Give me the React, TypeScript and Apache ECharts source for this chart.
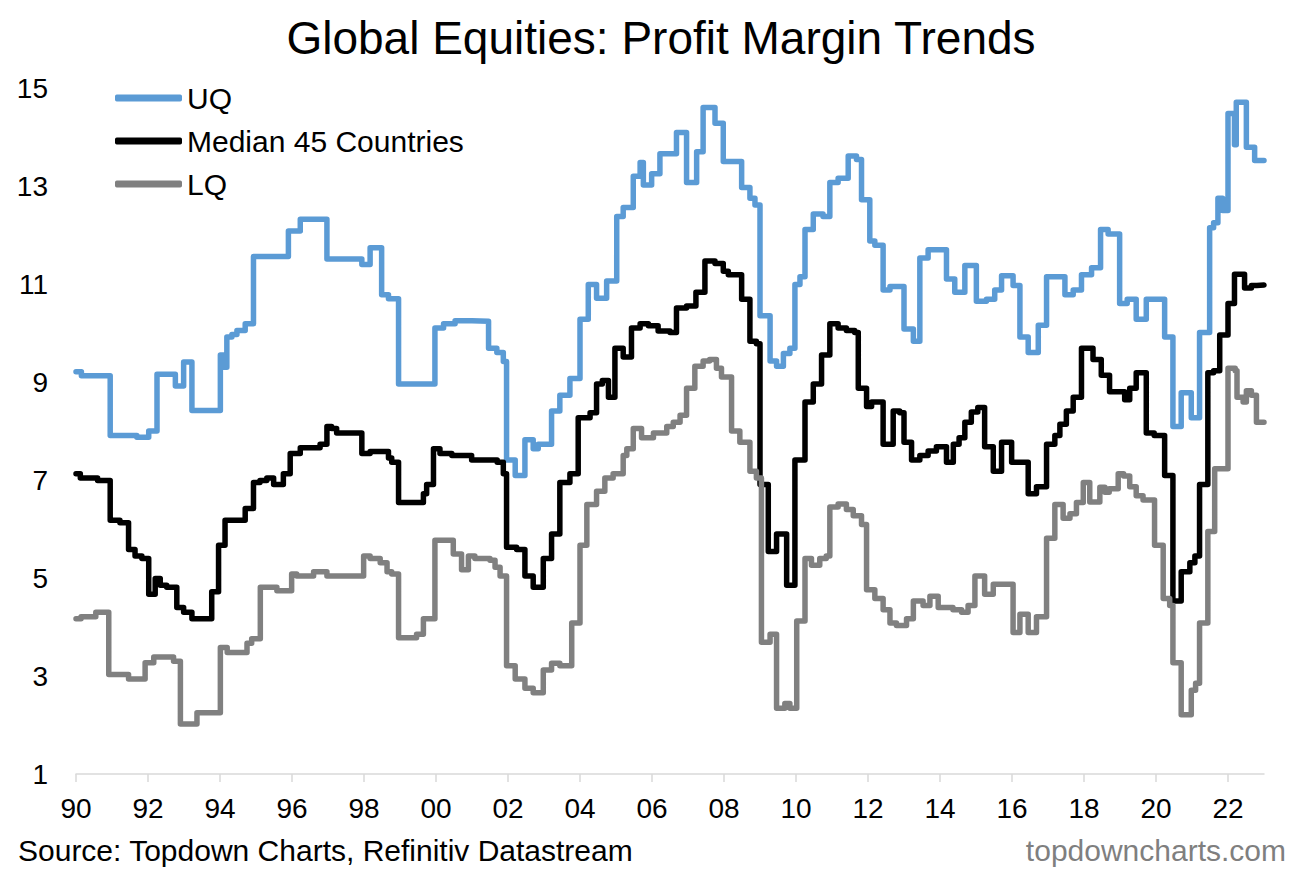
import React, { useEffect, useRef } from "react";
import * as echarts from "echarts";

// [year, value] — value holds from that year until the next point
const uqData: [number, number][] = [
  [1990.0, 9.21], [1990.15, 9.13], [1990.95, 7.91], [1991.69, 7.87], [1992.02, 8.0], [1992.25, 9.16],
  [1992.76, 8.92], [1992.99, 9.41], [1993.22, 8.42], [1994.01, 9.55], [1994.1, 9.3], [1994.19, 9.92],
  [1994.33, 9.97], [1994.47, 10.05], [1994.7, 10.19], [1994.93, 11.56], [1995.9, 12.08], [1996.23, 12.32],
  [1996.97, 11.51], [1997.94, 11.4], [1998.17, 11.74], [1998.49, 10.78], [1998.68, 10.7], [1998.96, 8.96],
  [1999.97, 10.1], [2000.21, 10.19], [2000.53, 10.25], [2001.0, 10.24], [2001.46, 9.69], [2001.69, 9.6],
  [2001.87, 9.42], [2001.96, 7.41], [2002.2, 7.09], [2002.47, 7.82], [2002.7, 7.64], [2002.84, 7.73],
  [2003.21, 8.41], [2003.44, 8.73], [2003.72, 9.07], [2004.0, 10.28], [2004.23, 10.99], [2004.46, 10.71],
  [2004.74, 11.06], [2005.02, 12.38], [2005.2, 12.56], [2005.48, 13.2], [2005.67, 13.48], [2005.76, 13.02],
  [2005.99, 13.25], [2006.22, 13.66], [2006.68, 14.09], [2006.96, 13.07], [2007.24, 13.7], [2007.42, 14.6],
  [2007.75, 14.28], [2007.98, 13.5], [2008.49, 12.97], [2008.72, 12.75], [2008.86, 12.61], [2009.0, 10.35],
  [2009.28, 9.43], [2009.46, 9.32], [2009.65, 9.58], [2009.83, 9.69], [2009.97, 10.99], [2010.11, 11.15],
  [2010.25, 12.11], [2010.48, 12.43], [2010.75, 12.38], [2010.94, 13.07], [2011.17, 13.16], [2011.45, 13.61],
  [2011.68, 13.54], [2011.82, 12.72], [2012.05, 11.88], [2012.19, 11.79], [2012.42, 10.88], [2012.61, 10.95],
  [2013.0, 10.08], [2013.26, 9.83], [2013.44, 11.53], [2013.67, 11.7], [2014.18, 11.1], [2014.41, 10.83],
  [2014.69, 11.38], [2015.01, 10.65], [2015.29, 10.69], [2015.52, 10.88], [2015.71, 11.17], [2016.03, 10.97],
  [2016.22, 9.92], [2016.45, 9.6], [2016.73, 10.16], [2016.96, 11.15], [2017.47, 10.78], [2017.7, 10.88],
  [2017.93, 11.19], [2018.21, 11.33], [2018.46, 12.11], [2018.67, 12.02], [2018.99, 10.6], [2019.2, 10.69],
  [2019.45, 10.28], [2019.73, 10.69], [2020.24, 9.92], [2020.47, 8.09], [2020.7, 8.78], [2020.98, 8.27],
  [2021.21, 10.01], [2021.49, 12.15], [2021.6, 12.25], [2021.72, 12.75], [2021.85, 12.5], [2022.0, 14.48],
  [2022.18, 13.84], [2022.23, 14.71], [2022.51, 13.79], [2022.74, 13.52], [2023.0, 13.52],
];

const medianData: [number, number][] = [
  [1990.0, 7.13], [1990.12, 7.04], [1990.6, 6.99], [1990.95, 6.18], [1991.22, 6.13], [1991.46, 5.58],
  [1991.64, 5.45], [1991.83, 5.4], [1992.02, 4.67], [1992.2, 4.99], [1992.34, 4.85], [1992.52, 4.81],
  [1992.8, 4.4], [1992.99, 4.3], [1993.22, 4.17], [1993.77, 4.72], [1993.96, 5.67], [1994.14, 6.18],
  [1994.7, 6.42], [1994.93, 6.95], [1995.11, 6.99], [1995.3, 7.04], [1995.49, 6.91], [1995.76, 7.13],
  [1995.95, 7.54], [1996.23, 7.66], [1996.78, 7.73], [1996.97, 8.09], [1997.1, 8.05], [1997.24, 7.96],
  [1997.94, 7.54], [1998.17, 7.58], [1998.68, 7.45], [1998.77, 7.36], [1998.96, 6.54], [1999.65, 6.72],
  [1999.74, 6.91], [1999.93, 7.64], [2000.11, 7.54], [2000.44, 7.5], [2000.99, 7.41], [2001.7, 7.36],
  [2001.87, 7.13], [2001.96, 5.63], [2002.24, 5.58], [2002.47, 5.04], [2002.7, 4.81], [2002.98, 5.4],
  [2003.21, 5.9], [2003.44, 6.95], [2003.72, 7.13], [2003.95, 8.27], [2004.28, 8.37], [2004.46, 8.96],
  [2004.62, 9.03], [2004.79, 8.69], [2004.97, 9.69], [2005.2, 9.51], [2005.43, 10.1], [2005.67, 10.19],
  [2005.9, 10.15], [2006.17, 10.04], [2006.5, 10.01], [2006.68, 10.51], [2006.96, 10.55], [2007.22, 10.83],
  [2007.47, 11.47], [2007.75, 11.42], [2007.98, 11.26], [2008.12, 11.19], [2008.49, 10.69], [2008.72, 9.83],
  [2008.9, 9.78], [2009.0, 6.91], [2009.23, 5.54], [2009.46, 5.9], [2009.74, 4.85], [2009.97, 7.41],
  [2010.25, 8.59], [2010.48, 8.96], [2010.71, 9.55], [2010.94, 10.19], [2011.17, 10.1], [2011.4, 10.05],
  [2011.63, 10.01], [2011.73, 8.87], [2011.96, 8.5], [2012.1, 8.59], [2012.42, 7.73], [2012.7, 8.41],
  [2012.88, 8.37], [2013.0, 7.77], [2013.21, 7.41], [2013.44, 7.5], [2013.67, 7.59], [2013.9, 7.68],
  [2014.18, 7.36], [2014.37, 7.73], [2014.53, 7.86], [2014.69, 8.18], [2014.87, 8.39], [2015.05, 8.48],
  [2015.24, 7.68], [2015.48, 7.18], [2015.71, 7.77], [2015.99, 7.36], [2016.45, 6.72], [2016.68, 6.86],
  [2016.96, 7.73], [2017.19, 7.91], [2017.33, 8.14], [2017.51, 8.41], [2017.7, 8.69], [2017.93, 9.69],
  [2018.25, 9.46], [2018.48, 9.14], [2018.71, 8.8], [2019.13, 8.64], [2019.27, 8.87], [2019.45, 9.19],
  [2019.73, 7.96], [2019.95, 7.91], [2020.24, 7.09], [2020.47, 4.53], [2020.7, 5.13], [2020.94, 5.31],
  [2021.08, 5.45], [2021.21, 6.91], [2021.44, 9.19], [2021.6, 9.23], [2021.77, 9.96], [2022.0, 10.6],
  [2022.18, 11.2], [2022.46, 10.92], [2022.65, 10.97], [2022.8, 10.98], [2023.0, 10.98],
];

const lqData: [number, number][] = [
  [1990.0, 4.17], [1990.14, 4.21], [1990.55, 4.3], [1990.91, 3.03], [1991.46, 2.94], [1991.92, 3.27],
  [1992.16, 3.39], [1992.71, 3.3], [1992.9, 2.02], [1993.36, 2.25], [1994.01, 3.58], [1994.2, 3.48],
  [1994.75, 3.67], [1994.88, 3.76], [1995.12, 4.81], [1995.58, 4.74], [1995.99, 5.08], [1996.13, 5.04],
  [1996.6, 5.13], [1996.97, 5.04], [1997.99, 5.45], [1998.17, 5.4], [1998.45, 5.31], [1998.64, 5.13],
  [1998.77, 5.08], [1998.96, 3.78], [1999.46, 3.85], [1999.65, 4.17], [1999.97, 5.77], [2000.48, 5.49],
  [2000.71, 5.17], [2000.9, 5.45], [2001.08, 5.4], [2001.5, 5.36], [2001.64, 5.22], [2001.78, 5.04],
  [2001.96, 3.21], [2002.2, 2.94], [2002.47, 2.75], [2002.7, 2.66], [2002.98, 3.12], [2003.21, 3.26],
  [2003.44, 3.21], [2003.77, 4.08], [2004.0, 5.67], [2004.19, 6.5], [2004.46, 6.77], [2004.69, 7.04],
  [2004.92, 7.13], [2005.2, 7.5], [2005.3, 7.64], [2005.48, 8.05], [2005.71, 7.86], [2006.04, 7.96],
  [2006.41, 8.09], [2006.59, 8.18], [2006.78, 8.32], [2006.96, 8.87], [2007.19, 9.32], [2007.42, 9.43],
  [2007.6, 9.46], [2007.79, 9.28], [2007.93, 9.1], [2008.21, 8.0], [2008.44, 7.77], [2008.72, 7.18],
  [2008.9, 7.04], [2009.04, 3.69], [2009.28, 3.85], [2009.46, 2.34], [2009.69, 2.44], [2009.83, 2.34],
  [2010.02, 4.12], [2010.25, 5.4], [2010.43, 5.26], [2010.66, 5.4], [2010.84, 5.45], [2010.94, 6.45],
  [2011.17, 6.51], [2011.4, 6.4], [2011.59, 6.27], [2011.82, 6.09], [2011.96, 4.76], [2012.19, 4.58],
  [2012.42, 4.35], [2012.61, 4.08], [2012.79, 4.03], [2013.07, 4.17], [2013.26, 4.53], [2013.53, 4.44],
  [2013.72, 4.63], [2013.95, 4.4], [2014.36, 4.35], [2014.6, 4.3], [2014.78, 4.44], [2014.97, 5.04],
  [2015.24, 4.67], [2015.48, 4.87], [2016.03, 3.89], [2016.22, 4.26], [2016.45, 3.89], [2016.68, 4.21],
  [2016.96, 5.81], [2017.19, 6.5], [2017.42, 6.22], [2017.61, 6.31], [2017.79, 6.54], [2017.98, 6.95],
  [2018.16, 6.55], [2018.44, 6.85], [2018.58, 6.75], [2018.7, 6.82], [2018.95, 7.13], [2019.1, 7.08],
  [2019.27, 6.86], [2019.45, 6.68], [2019.64, 6.59], [2019.96, 5.67], [2020.2, 4.58], [2020.38, 4.44],
  [2020.47, 3.27], [2020.7, 2.21], [2020.98, 2.71], [2021.1, 2.85], [2021.21, 4.08], [2021.44, 5.95],
  [2021.63, 7.23], [2022.0, 9.28], [2022.2, 9.23], [2022.25, 8.69], [2022.42, 8.59], [2022.51, 8.82],
  [2022.65, 8.73], [2022.79, 8.18], [2023.0, 8.18],
];

const seriesNames = ["UQ", "Median 45 Countries", "LQ"];
const seriesColors = ["#5b9bd5", "#000000", "#808080"];
const xTickYears = [1990, 1992, 1994, 1996, 1998, 2000, 2002, 2004, 2006, 2008, 2010, 2012, 2014, 2016, 2018, 2020, 2022];
const yTicks = [1, 3, 5, 7, 9, 11, 13, 15];

const titleText = "Global Equities: Profit Margin Trends";
const sourceText = "Source: Topdown Charts, Refinitiv Datastream";
const brandText = "topdowncharts.com";

const FONT = "'Liberation Sans', Arial, Helvetica, sans-serif";

export default function App() {
  const ref = useRef<HTMLDivElement>(null);
  useEffect(() => {
    if (!ref.current) return;
    const chart = echarts.init(ref.current, undefined, { renderer: "svg" });
    const datasets = [uqData, medianData, lqData];
    chart.setOption({
      animation: false,
      backgroundColor: "#ffffff",
      textStyle: { fontFamily: FONT },
      grid: { left: 76, right: 38, top: 88, bottom: 101, containLabel: false },
      legend: {
        orient: "vertical",
        left: 110,
        top: 78,
        itemWidth: 67,
        itemHeight: 7,
        itemGap: 13,
        icon: "roundRect",
        data: seriesNames,
        textStyle: { fontSize: 30, color: "#000", fontFamily: FONT },
      },
      xAxis: {
        type: "value",
        min: 1990,
        max: 2023,
        interval: 2,
        axisLine: { show: true, lineStyle: { color: "#d9d9d9", width: 1.5 } },
        axisTick: { show: true, length: 8, lineStyle: { color: "#d9d9d9", width: 1.5 }, customValues: xTickYears },
        axisLabel: {
          fontSize: 28,
          color: "#000",
          margin: 20,
          fontFamily: FONT,
          customValues: xTickYears,
          formatter: (v: number) => String(Math.round(v) % 100).padStart(2, "0"),
        },
        splitLine: { show: false },
      },
      yAxis: {
        type: "value",
        min: 1,
        max: 15,
        interval: 2,
        axisLine: { show: false },
        axisTick: { show: false },
        splitLine: { show: false },
        axisLabel: {
          fontSize: 28,
          color: "#000",
          margin: 28,
          fontFamily: FONT,
          customValues: yTicks,
        },
      },
      graphic: [
        {
          type: "text",
          x: 661,
          y: 38,
          style: { text: titleText, fontSize: 46, fill: "#000", fontFamily: FONT, align: "center", verticalAlign: "middle" },
        },
        {
          type: "text",
          x: 18,
          y: 850,
          style: { text: sourceText, fontSize: 30, fill: "#000", fontFamily: FONT, align: "left", verticalAlign: "middle" },
        },
        {
          type: "text",
          x: 1286,
          y: 850,
          style: { text: brandText, fontSize: 30, fill: "#7f7f7f", fontFamily: FONT, align: "right", verticalAlign: "middle" },
        },
      ],
      series: datasets.map((d, i) => ({
        name: seriesNames[i],
        type: "line",
        step: "end",
        data: d,
        showSymbol: false,
        symbol: "none",
        color: seriesColors[i],
        lineStyle: { color: seriesColors[i], width: 5.5, cap: "round", join: "round" },
        z: 2 + i,
      })),
    });
    return () => chart.dispose();
  }, []);
  return <div ref={ref} style={{ position: "absolute", left: 0, top: 0, width: 1302, height: 875 }} />;
}
